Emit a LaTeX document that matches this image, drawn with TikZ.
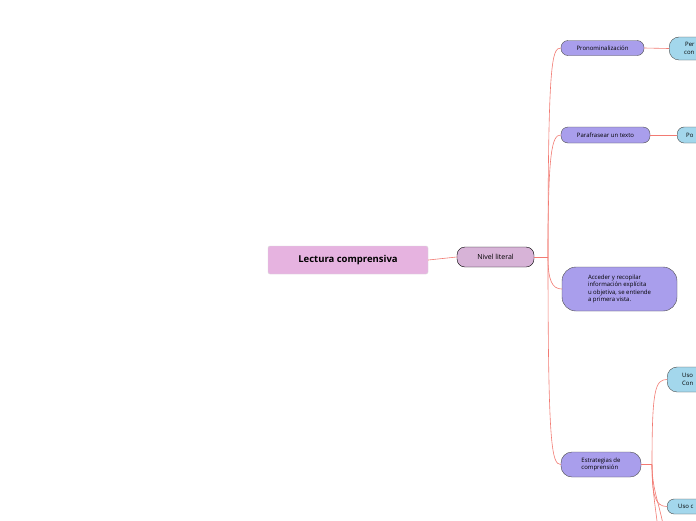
\documentclass[tikz,border=0pt]{standalone}
\usepackage{fontspec}
\setmainfont{Open Sans}
\definecolor{subc}{HTML}{A99EEC}
\definecolor{leafc}{HTML}{A3D7EC}
\definecolor{rootc}{HTML}{E6B3E0}
\definecolor{nlc}{HTML}{D7B3D7}
\definecolor{lnkc}{HTML}{F27A72}
\begin{document}
\begin{tikzpicture}[x=1pt,y=-1pt,
  lnk/.style={draw=lnkc,line width=0.6pt},
  sub/.style={draw=black!70,fill=subc,rounded corners=7pt,font=\fontsize{6}{7.5}\selectfont,inner sep=2pt,align=left},
  leaf/.style={draw=black!70,fill=leafc,rounded corners=7pt,inner sep=0pt,anchor=west},
  lt/.style={font=\fontsize{6}{7.5}\selectfont,inner sep=0pt,anchor=west,align=left}]
\useasboundingbox (0,0) rectangle (696,520);
\clip (0,0) rectangle (696,520);
\fill[white] (0,0) rectangle (696,520);
\node[draw=black!15,fill=rootc,rounded corners=2pt,minimum width=160pt,minimum height=28pt,font=\bfseries\fontsize{9.5}{11}\selectfont] (root) at (348,260) {Lectura comprensiva};
\node[draw=black,fill=nlc,rounded corners=8pt,minimum width=77pt,minimum height=20pt,font=\fontsize{7}{8}\selectfont] (nl) at (495.5,257) {Nivel literal};
\node[sub,minimum width=83pt,minimum height=15pt,align=center] (p1) at (602.5,48) {Pronominalización};
\node[sub,minimum width=89pt,minimum height=16pt,align=center] (p2) at (605.5,135) {Parafrasear un texto};
\node[sub,minimum width=115pt,minimum height=44pt,rounded corners=14pt,inner xsep=17pt] (p3) at (619.5,289) {Acceder y recopilar\\información explícita\\u objetiva, se entiende\\a primera vista.};
\node[sub,minimum width=80pt,minimum height=25pt,rounded corners=11pt,inner xsep=14pt] (p4) at (601,464.5) {Estrategias de\\comprensión};
\node[leaf,minimum width=60pt,minimum height=23pt,rounded corners=10pt] (l1) at (669,48.5) {};
\node[lt] (t1) at (684,48.5) {\hspace{1pt}Per\\con};
\node[leaf,minimum width=60pt,minimum height=16pt] (l2) at (677,135) {};
\node[lt] (t2) at (686,135) {Po};
\node[leaf,minimum width=60pt,minimum height=25pt,rounded corners=10pt] (l3) at (667,379.5) {};
\node[lt] (t3) at (682,379.5) {Uso\\Con};
\node[leaf,minimum width=60pt,minimum height=15pt] (l4) at (667,506.5) {};
\node[lt] (t4) at (678,506.5) {Uso c};
\draw[lnk] (root.east) -- (nl.west);
\coordinate (h) at (548,257);
\draw[lnk] (nl.east) -- (h);
\draw[lnk] (h) .. controls (548,60) and (552,48) .. (p1.west);
\draw[lnk] (h) .. controls (548,150) and (552,135) .. (p2.west);
\draw[lnk] (h) .. controls (548,280) and (552,289) .. (p3.west);
\draw[lnk] (h) .. controls (548,450) and (552,464) .. (p4.west);
\coordinate (h2) at (652,464.5);
\draw[lnk] (p4.east) -- (h2);
\draw[lnk] (h2) .. controls (652,390) and (655,379.5) .. (l3.west);
\draw[lnk] (h2) .. controls (652,495) and (655,506.5) .. (l4.west);
\coordinate (e1) at (658,530);
\coordinate (e2) at (664,530);
\draw[lnk] (h2) .. controls (652,490) and (656,510) .. (e1);
\draw[lnk] (h2) .. controls (652,490) and (660,505) .. (e2);
\draw[lnk] (p1.east) -- (l1.west);
\draw[lnk] (p2.east) -- (l2.west);
\end{tikzpicture}
\end{document}
